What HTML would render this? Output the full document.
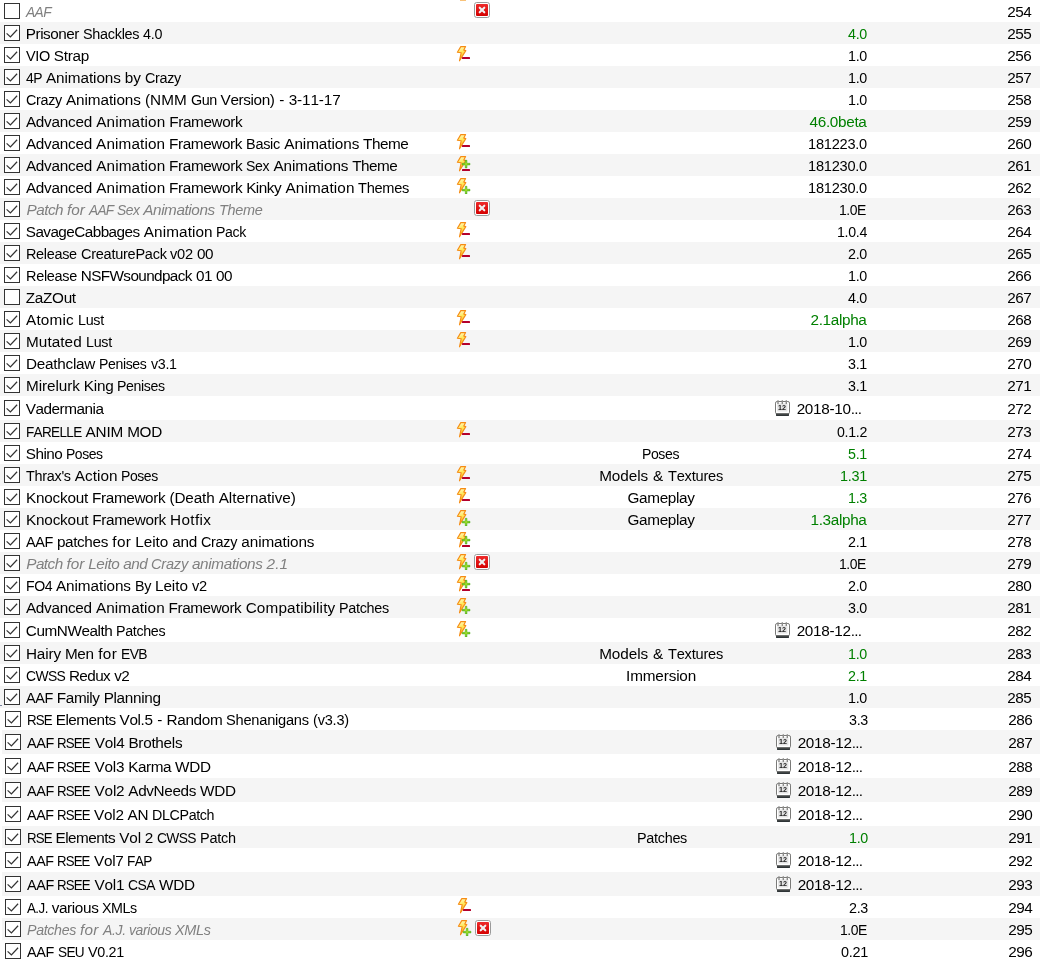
<!DOCTYPE html><html><head><meta charset="utf-8"><title>Mod list</title><style>
html,body{margin:0;padding:0;background:#fff;}
body{width:1040px;height:961px;overflow:hidden;position:relative;font-family:"Liberation Sans",sans-serif;font-size:15.3px;color:#000;font-kerning:none;font-variant-ligatures:none;}
.r{position:absolute;left:0;width:1040px;}
.g{background:#f5f5f5;}
.t{position:absolute;white-space:nowrap;line-height:22px;height:22px;top:0;}
.w{display:inline-block;transform-origin:0 50%;}
.i{font-style:italic;color:#808080;}
.gr{color:#008000;}
.cb{position:absolute;width:14px;height:14px;border:1px solid #333;background:#fff;}
.cb svg{position:absolute;left:-1px;top:-1px;}
.ic{position:absolute;width:16px;height:16px;}
</style></head><body>
<svg width="0" height="0" style="position:absolute">
<defs>
<linearGradient id="bg" x1="0.3" y1="0" x2="0.5" y2="1">
<stop offset="0" stop-color="#fffbc4"/><stop offset="0.4" stop-color="#ffe85a"/><stop offset="0.75" stop-color="#fcc12e"/><stop offset="1" stop-color="#f7941d"/>
</linearGradient>
<radialGradient id="pg" cx="0.5" cy="0.45" r="0.6">
<stop offset="0" stop-color="#b4e82a"/><stop offset="0.6" stop-color="#86d020"/><stop offset="1" stop-color="#4bb01a"/>
</radialGradient>
<linearGradient id="rg" x1="0" y1="0" x2="0" y2="1">
<stop offset="0" stop-color="#ee2a2a"/><stop offset="1" stop-color="#d40000"/>
</linearGradient>
<linearGradient id="cg" x1="0" y1="0" x2="0" y2="1">
<stop offset="0" stop-color="#ffffff"/><stop offset="1" stop-color="#d8d8d8"/>
</linearGradient>
<g id="bolt"><polygon points="4.8,0.6 9.6,0.6 7.8,4.1 9.8,4.6 3.5,14.8 5.2,6.7 1.4,6.3" fill="url(#bg)" stroke="#f68c14" stroke-width="1.15" stroke-linejoin="round"/></g>
<g id="plus"><path d="M3.3 0.3h1.6v3h3v1.6h-3v3h-1.6v-3h-3v-1.6h3z" transform="translate(6 0)" fill="url(#pg)" stroke="#4cae18" stroke-width="0.6"/></g>
<g id="minus"><rect x="6" y="0" width="8" height="2" rx="0.5" fill="#b4002c"/></g>
<g id="redx">
<rect x="0.5" y="0.5" width="15" height="15" rx="2.2" fill="#fff" stroke="#9a9a9a" stroke-width="1"/>
<rect x="2" y="2" width="12" height="12" rx="1" fill="url(#rg)"/>
<path d="M5.7 5.7L10.3 10.3M10.3 5.7L5.7 10.3" stroke="#f0f0f0" stroke-width="2.1" stroke-linecap="round"/>
</g>
<g id="cal">
<rect x="0.5" y="1.5" width="14" height="12.4" rx="1.6" fill="#fff" stroke="#7a7a78" stroke-width="1"/>
<rect x="2.2" y="3.3" width="10.2" height="8.2" fill="#e4e4e4"/>
<rect x="1" y="13.6" width="13" height="2.3" rx="0.4" fill="#2e3436"/>
<rect x="1.2" y="13.4" width="12.6" height="0.9" fill="#6e6e6c"/>
<path d="M3 0.3v3.7M7.3 0.3v3.7M11.3 0.3v3.7" stroke="#8c8c8a" stroke-width="1.4"/>
<text x="6.9" y="10.2" font-family="Liberation Sans, sans-serif" font-size="7.2" font-weight="bold" text-anchor="middle" fill="#1c1c1c">12</text>
</g>
</defs>
</svg>

<div class="r" style="top:0px;height:22px;left:0px;width:1040px"><div class="cb" style="left:4px;top:3px"></div><span id="n0" class="t i" style="left:26px;top:1.0px;word-spacing:-0.55px"><span class="w" style="width:25.00px;transform:scaleX(0.901);letter-spacing:-0.67px;margin:0 0.30px 0 -0.30px">AAF</span></span><svg class="ic" style="left:474px;top:2px" viewBox="0 0 16 16"><use href="#redx"/></svg><span id="p0" class="t" style="left:1007.50px;top:1.0px"><span style="letter-spacing:-0.51px;margin:0 0.25px 0 -0.25px">254</span></span></div>
<div class="r g" style="top:22px;height:22px;left:0px;width:1040px"><div class="cb" style="left:4px;top:3px"><svg width="16" height="16" viewBox="0 0 16 16"><path d="M2.6 8.4L6.4 11.9L13.1 4.7" fill="none" stroke="#333" stroke-width="1.25"/></svg></div><span id="n1" class="t" style="left:26px;top:1.0px;word-spacing:-0.23px"><span style="letter-spacing:-0.47px;margin:0 0.23px 0 -0.23px">Prisoner</span> <span class="w" style="width:56.26px;transform:scaleX(0.943);letter-spacing:-0.30px;margin:0 0.14px 0 -0.14px">Shackles</span> <span class="w" style="width:19.09px;transform:scaleX(0.937);letter-spacing:-0.30px;margin:0 0.14px 0 -0.14px">4.0</span></span><span id="v1" class="t gr" style="left:847.70px;top:1.0px"><span class="w" style="width:19.00px;transform:scaleX(0.935);letter-spacing:-0.31px;margin:0 0.15px 0 -0.15px">4.0</span></span><span id="p1" class="t" style="left:1007.50px;top:1.0px"><span style="letter-spacing:-0.51px;margin:0 0.25px 0 -0.25px">255</span></span></div>
<div class="r" style="top:44px;height:22px;left:0px;width:1040px"><div class="cb" style="left:4px;top:3px"><svg width="16" height="16" viewBox="0 0 16 16"><path d="M2.6 8.4L6.4 11.9L13.1 4.7" fill="none" stroke="#333" stroke-width="1.25"/></svg></div><span id="n2" class="t" style="left:26px;top:1.0px;word-spacing:-0.25px"><span class="w" style="width:24.01px;transform:scaleX(0.946);letter-spacing:-0.32px;margin:0 0.15px 0 -0.15px">VIO</span> <span style="letter-spacing:-0.31px;margin:0 0.16px 0 -0.16px">Strap</span></span><svg class="ic" style="left:456px;top:2px" viewBox="0 0 16 16"><use href="#bolt"/><use href="#minus" y="11"/></svg><span id="v2" class="t" style="left:847.70px;top:1.0px"><span class="w" style="width:19.00px;transform:scaleX(0.935);letter-spacing:-0.31px;margin:0 0.15px 0 -0.15px">1.0</span></span><span id="p2" class="t" style="left:1007.50px;top:1.0px"><span style="letter-spacing:-0.51px;margin:0 0.25px 0 -0.25px">256</span></span></div>
<div class="r g" style="top:66px;height:22px;left:0px;width:1040px"><div class="cb" style="left:4px;top:3px"><svg width="16" height="16" viewBox="0 0 16 16"><path d="M2.6 8.4L6.4 11.9L13.1 4.7" fill="none" stroke="#333" stroke-width="1.25"/></svg></div><span id="n3" class="t" style="left:26px;top:1.0px;word-spacing:-0.26px"><span class="w" style="width:15.97px;transform:scaleX(0.909);letter-spacing:-0.57px;margin:0 0.26px 0 -0.26px">4P</span> <span style="letter-spacing:-0.08px;margin:0 0.04px 0 -0.04px">Animations</span> <span style="letter-spacing:-0.09px;margin:0 0.05px 0 -0.05px">by</span> <span class="w" style="width:35.94px;transform:scaleX(0.938);letter-spacing:-0.33px;margin:0 0.16px 0 -0.16px">Crazy</span></span><span id="v3" class="t" style="left:847.70px;top:1.0px"><span class="w" style="width:19.00px;transform:scaleX(0.935);letter-spacing:-0.31px;margin:0 0.15px 0 -0.15px">1.0</span></span><span id="p3" class="t" style="left:1007.50px;top:1.0px"><span style="letter-spacing:-0.51px;margin:0 0.25px 0 -0.25px">257</span></span></div>
<div class="r" style="top:88px;height:22px;left:0px;width:1040px"><div class="cb" style="left:4px;top:3px"><svg width="16" height="16" viewBox="0 0 16 16"><path d="M2.6 8.4L6.4 11.9L13.1 4.7" fill="none" stroke="#333" stroke-width="1.25"/></svg></div><span id="n4" class="t" style="left:26px;top:1.0px;word-spacing:-0.25px"><span class="w" style="width:35.97px;transform:scaleX(0.939);letter-spacing:-0.33px;margin:0 0.15px 0 -0.15px">Crazy</span> <span style="letter-spacing:-0.08px;margin:0 0.04px 0 -0.04px">Animations</span> <span style="letter-spacing:0.08px;margin:0 -0.04px 0 0.04px">(NMM</span> <span class="w" style="width:25.98px;transform:scaleX(0.938);letter-spacing:-0.41px;margin:0 0.19px 0 -0.19px">Gun</span> <span style="letter-spacing:-0.38px;margin:0 0.19px 0 -0.19px">Version)</span> <span style="letter-spacing:0.90px;margin:0 -0.45px 0 0.45px">-</span> <span style="letter-spacing:-0.11px;margin:0 0.06px 0 -0.06px">3-11-17</span></span><span id="v4" class="t" style="left:847.70px;top:1.0px"><span class="w" style="width:19.00px;transform:scaleX(0.935);letter-spacing:-0.31px;margin:0 0.15px 0 -0.15px">1.0</span></span><span id="p4" class="t" style="left:1007.50px;top:1.0px"><span style="letter-spacing:-0.51px;margin:0 0.25px 0 -0.25px">258</span></span></div>
<div class="r g" style="top:110px;height:22px;left:0px;width:1040px"><div class="cb" style="left:4px;top:3px"><svg width="16" height="16" viewBox="0 0 16 16"><path d="M2.6 8.4L6.4 11.9L13.1 4.7" fill="none" stroke="#333" stroke-width="1.25"/></svg></div><span id="n5" class="t" style="left:26px;top:1.0px;word-spacing:-0.24px"><span style="letter-spacing:-0.24px;margin:0 0.12px 0 -0.12px">Advanced</span> <span style="letter-spacing:0.13px;margin:0 -0.06px 0 0.06px">Animation</span> <span style="letter-spacing:-0.37px;margin:0 0.18px 0 -0.18px">Framework</span></span><span id="v5" class="t gr" style="left:809.70px;top:1.0px"><span style="letter-spacing:-0.32px;margin:0 0.16px 0 -0.16px">46.0beta</span></span><span id="p5" class="t" style="left:1007.50px;top:1.0px"><span style="letter-spacing:-0.51px;margin:0 0.25px 0 -0.25px">259</span></span></div>
<div class="r" style="top:132px;height:22px;left:0px;width:1040px"><div class="cb" style="left:4px;top:3px"><svg width="16" height="16" viewBox="0 0 16 16"><path d="M2.6 8.4L6.4 11.9L13.1 4.7" fill="none" stroke="#333" stroke-width="1.25"/></svg></div><span id="n6" class="t" style="left:26px;top:1.0px;word-spacing:-0.25px"><span style="letter-spacing:-0.25px;margin:0 0.12px 0 -0.12px">Advanced</span> <span style="letter-spacing:0.12px;margin:0 -0.06px 0 0.06px">Animation</span> <span style="letter-spacing:-0.38px;margin:0 0.19px 0 -0.19px">Framework</span> <span class="w" style="width:34.04px;transform:scaleX(0.945);letter-spacing:-0.28px;margin:0 0.13px 0 -0.13px">Basic</span> <span style="letter-spacing:-0.06px;margin:0 0.03px 0 -0.03px">Animations</span> <span style="letter-spacing:-0.51px;margin:0 0.26px 0 -0.26px">Theme</span></span><svg class="ic" style="left:456px;top:2px" viewBox="0 0 16 16"><use href="#bolt"/><use href="#minus" y="11"/></svg><span id="v6" class="t" style="left:807.70px;top:1.0px"><span class="w" style="width:59.00px;transform:scaleX(0.954);letter-spacing:-0.25px;margin:0 0.12px 0 -0.12px">181223.0</span></span><span id="p6" class="t" style="left:1007.50px;top:1.0px"><span style="letter-spacing:-0.51px;margin:0 0.25px 0 -0.25px">260</span></span></div>
<div class="r g" style="top:154px;height:22px;left:0px;width:1040px"><div class="cb" style="left:4px;top:3px"><svg width="16" height="16" viewBox="0 0 16 16"><path d="M2.6 8.4L6.4 11.9L13.1 4.7" fill="none" stroke="#333" stroke-width="1.25"/></svg></div><span id="n7" class="t" style="left:26px;top:1.0px;word-spacing:-0.24px"><span style="letter-spacing:-0.24px;margin:0 0.12px 0 -0.12px">Advanced</span> <span style="letter-spacing:0.12px;margin:0 -0.06px 0 0.06px">Animation</span> <span style="letter-spacing:-0.38px;margin:0 0.19px 0 -0.19px">Framework</span> <span class="w" style="width:23.03px;transform:scaleX(0.922);letter-spacing:-0.46px;margin:0 0.21px 0 -0.21px">Sex</span> <span style="letter-spacing:-0.06px;margin:0 0.03px 0 -0.03px">Animations</span> <span style="letter-spacing:-0.51px;margin:0 0.26px 0 -0.26px">Theme</span></span><svg class="ic" style="left:456px;top:2px" viewBox="0 0 16 16"><use href="#bolt"/><use href="#plus" y="4"/><use href="#minus" y="13"/></svg><span id="v7" class="t" style="left:807.70px;top:1.0px"><span class="w" style="width:59.00px;transform:scaleX(0.954);letter-spacing:-0.25px;margin:0 0.12px 0 -0.12px">181230.0</span></span><span id="p7" class="t" style="left:1007.50px;top:1.0px"><span style="letter-spacing:-0.51px;margin:0 0.25px 0 -0.25px">261</span></span></div>
<div class="r" style="top:176px;height:22px;left:0px;width:1040px"><div class="cb" style="left:4px;top:3px"><svg width="16" height="16" viewBox="0 0 16 16"><path d="M2.6 8.4L6.4 11.9L13.1 4.7" fill="none" stroke="#333" stroke-width="1.25"/></svg></div><span id="n8" class="t" style="left:26px;top:1.0px;word-spacing:-0.24px"><span style="letter-spacing:-0.24px;margin:0 0.12px 0 -0.12px">Advanced</span> <span style="letter-spacing:0.12px;margin:0 -0.06px 0 0.06px">Animation</span> <span style="letter-spacing:-0.38px;margin:0 0.19px 0 -0.19px">Framework</span> <span style="letter-spacing:-0.47px;margin:0 0.24px 0 -0.24px">Kinky</span> <span style="letter-spacing:0.12px;margin:0 -0.06px 0 0.06px">Animation</span> <span class="w" style="width:51.09px;transform:scaleX(0.954);letter-spacing:-0.29px;margin:0 0.14px 0 -0.14px">Themes</span></span><svg class="ic" style="left:456px;top:2px" viewBox="0 0 16 16"><use href="#bolt"/><use href="#plus" y="8"/></svg><span id="v8" class="t" style="left:807.70px;top:1.0px"><span class="w" style="width:59.00px;transform:scaleX(0.954);letter-spacing:-0.25px;margin:0 0.12px 0 -0.12px">181230.0</span></span><span id="p8" class="t" style="left:1007.50px;top:1.0px"><span style="letter-spacing:-0.51px;margin:0 0.25px 0 -0.25px">262</span></span></div>
<div class="r g" style="top:198px;height:22px;left:0px;width:1040px"><div class="cb" style="left:4px;top:3px"><svg width="16" height="16" viewBox="0 0 16 16"><path d="M2.6 8.4L6.4 11.9L13.1 4.7" fill="none" stroke="#333" stroke-width="1.25"/></svg></div><span id="n9" class="t i" style="left:26px;top:1.0px;word-spacing:-0.38px"><span style="letter-spacing:-0.51px;margin:0 -0.00px 0 0.53px">Patch</span> <span style="letter-spacing:0.02px;margin:0 -0.00px 0 0.00px">for</span> <span class="w" style="width:24.44px;transform:scaleX(0.889);letter-spacing:-0.75px;margin:0 -0.00px 0 0.00px">AAF</span> <span class="w" style="width:22.32px;transform:scaleX(0.905);letter-spacing:-0.57px;margin:0 -0.00px 0 0.00px">Sex</span> <span style="letter-spacing:-0.42px;margin:0 -0.00px 0 0.00px">Animations</span> <span class="w" style="width:43.33px;transform:scaleX(0.945);letter-spacing:-0.35px;margin:0 -0.00px 0 0.00px">Theme</span></span><svg class="ic" style="left:474px;top:2px" viewBox="0 0 16 16"><use href="#redx"/></svg><span id="v9" class="t" style="left:839.70px;top:1.0px"><span class="w" style="width:27.00px;transform:scaleX(0.912);letter-spacing:-0.47px;margin:0 0.21px 0 -0.21px">1.0E</span></span><span id="p9" class="t" style="left:1007.50px;top:1.0px"><span style="letter-spacing:-0.51px;margin:0 0.25px 0 -0.25px">263</span></span></div>
<div class="r" style="top:220px;height:22px;left:0px;width:1040px"><div class="cb" style="left:4px;top:3px"><svg width="16" height="16" viewBox="0 0 16 16"><path d="M2.6 8.4L6.4 11.9L13.1 4.7" fill="none" stroke="#333" stroke-width="1.25"/></svg></div><span id="n10" class="t" style="left:26px;top:1.0px;word-spacing:-0.26px"><span style="letter-spacing:-0.56px;margin:0 0.28px 0 -0.28px">SavageCabbages</span> <span style="letter-spacing:0.09px;margin:0 -0.05px 0 0.05px">Animation</span> <span class="w" style="width:29.94px;transform:scaleX(0.926);letter-spacing:-0.42px;margin:0 0.20px 0 -0.20px">Pack</span></span><svg class="ic" style="left:456px;top:2px" viewBox="0 0 16 16"><use href="#bolt"/><use href="#minus" y="11"/></svg><span id="v10" class="t" style="left:836.70px;top:1.0px"><span class="w" style="width:30.00px;transform:scaleX(0.927);letter-spacing:-0.33px;margin:0 0.16px 0 -0.16px">1.0.4</span></span><span id="p10" class="t" style="left:1007.50px;top:1.0px"><span style="letter-spacing:-0.51px;margin:0 0.25px 0 -0.25px">264</span></span></div>
<div class="r g" style="top:242px;height:22px;left:0px;width:1040px"><div class="cb" style="left:4px;top:3px"><svg width="16" height="16" viewBox="0 0 16 16"><path d="M2.6 8.4L6.4 11.9L13.1 4.7" fill="none" stroke="#333" stroke-width="1.25"/></svg></div><span id="n11" class="t" style="left:26px;top:1.0px;word-spacing:-0.27px"><span class="w" style="width:50.80px;transform:scaleX(0.942);letter-spacing:-0.31px;margin:0 0.15px 0 -0.15px">Release</span> <span class="w" style="width:85.67px;transform:scaleX(0.949);letter-spacing:-0.27px;margin:0 0.13px 0 -0.13px">CreaturePack</span> <span class="w" style="width:22.91px;transform:scaleX(0.957);letter-spacing:-0.24px;margin:0 0.11px 0 -0.11px">v02</span> <span style="letter-spacing:-0.54px;margin:0 0.27px 0 -0.27px">00</span></span><svg class="ic" style="left:456px;top:2px" viewBox="0 0 16 16"><use href="#bolt"/><use href="#minus" y="11"/></svg><span id="v11" class="t" style="left:847.70px;top:1.0px"><span class="w" style="width:19.00px;transform:scaleX(0.935);letter-spacing:-0.31px;margin:0 0.15px 0 -0.15px">2.0</span></span><span id="p11" class="t" style="left:1007.50px;top:1.0px"><span style="letter-spacing:-0.51px;margin:0 0.25px 0 -0.25px">265</span></span></div>
<div class="r" style="top:264px;height:22px;left:0px;width:1040px"><div class="cb" style="left:4px;top:3px"><svg width="16" height="16" viewBox="0 0 16 16"><path d="M2.6 8.4L6.4 11.9L13.1 4.7" fill="none" stroke="#333" stroke-width="1.25"/></svg></div><span id="n12" class="t" style="left:26px;top:1.0px;word-spacing:-0.25px"><span class="w" style="width:51.06px;transform:scaleX(0.945);letter-spacing:-0.30px;margin:0 0.14px 0 -0.14px">Release</span> <span style="letter-spacing:-0.61px;margin:0 0.30px 0 -0.30px">NSFWsoundpack</span> <span style="letter-spacing:-0.50px;margin:0 0.25px 0 -0.25px">01</span> <span style="letter-spacing:-0.50px;margin:0 0.25px 0 -0.25px">00</span></span><span id="v12" class="t" style="left:847.70px;top:1.0px"><span class="w" style="width:19.00px;transform:scaleX(0.935);letter-spacing:-0.31px;margin:0 0.15px 0 -0.15px">1.0</span></span><span id="p12" class="t" style="left:1007.50px;top:1.0px"><span style="letter-spacing:-0.51px;margin:0 0.25px 0 -0.25px">266</span></span></div>
<div class="r g" style="top:286px;height:22px;left:0px;width:1040px"><div class="cb" style="left:4px;top:3px"></div><span id="n13" class="t" style="left:26px;top:1.0px;word-spacing:-0.25px"><span style="letter-spacing:-0.32px;margin:0 0.16px 0 -0.16px">ZaZOut</span></span><span id="v13" class="t" style="left:847.70px;top:1.0px"><span class="w" style="width:19.00px;transform:scaleX(0.935);letter-spacing:-0.31px;margin:0 0.15px 0 -0.15px">4.0</span></span><span id="p13" class="t" style="left:1007.50px;top:1.0px"><span style="letter-spacing:-0.51px;margin:0 0.25px 0 -0.25px">267</span></span></div>
<div class="r" style="top:308px;height:22px;left:0px;width:1040px"><div class="cb" style="left:4px;top:3px"><svg width="16" height="16" viewBox="0 0 16 16"><path d="M2.6 8.4L6.4 11.9L13.1 4.7" fill="none" stroke="#333" stroke-width="1.25"/></svg></div><span id="n14" class="t" style="left:26px;top:1.0px;word-spacing:-0.27px"><span style="letter-spacing:0.17px;margin:0 -0.08px 0 0.08px">Atomic</span> <span class="w" style="width:25.88px;transform:scaleX(0.936);letter-spacing:-0.31px;margin:0 0.15px 0 -0.15px">Lust</span></span><svg class="ic" style="left:456px;top:2px" viewBox="0 0 16 16"><use href="#bolt"/><use href="#minus" y="11"/></svg><span id="v14" class="t gr" style="left:810.70px;top:1.0px"><span style="letter-spacing:-0.34px;margin:0 0.17px 0 -0.17px">2.1alpha</span></span><span id="p14" class="t" style="left:1007.50px;top:1.0px"><span style="letter-spacing:-0.51px;margin:0 0.25px 0 -0.25px">268</span></span></div>
<div class="r g" style="top:330px;height:22px;left:0px;width:1040px"><div class="cb" style="left:4px;top:3px"><svg width="16" height="16" viewBox="0 0 16 16"><path d="M2.6 8.4L6.4 11.9L13.1 4.7" fill="none" stroke="#333" stroke-width="1.25"/></svg></div><span id="n15" class="t" style="left:26px;top:1.0px;word-spacing:-0.27px"><span style="letter-spacing:0.07px;margin:0 -0.03px 0 0.03px">Mutated</span> <span class="w" style="width:25.89px;transform:scaleX(0.936);letter-spacing:-0.31px;margin:0 0.15px 0 -0.15px">Lust</span></span><svg class="ic" style="left:456px;top:2px" viewBox="0 0 16 16"><use href="#bolt"/><use href="#minus" y="11"/></svg><span id="v15" class="t" style="left:847.70px;top:1.0px"><span class="w" style="width:19.00px;transform:scaleX(0.935);letter-spacing:-0.31px;margin:0 0.15px 0 -0.15px">1.0</span></span><span id="p15" class="t" style="left:1007.50px;top:1.0px"><span style="letter-spacing:-0.51px;margin:0 0.25px 0 -0.25px">269</span></span></div>
<div class="r" style="top:352px;height:22px;left:0px;width:1040px"><div class="cb" style="left:4px;top:3px"><svg width="16" height="16" viewBox="0 0 16 16"><path d="M2.6 8.4L6.4 11.9L13.1 4.7" fill="none" stroke="#333" stroke-width="1.25"/></svg></div><span id="n16" class="t" style="left:26px;top:1.0px;word-spacing:-0.29px"><span style="letter-spacing:-0.24px;margin:0 0.12px 0 -0.12px">Deathclaw</span> <span class="w" style="width:47.50px;transform:scaleX(0.921);letter-spacing:-0.41px;margin:0 0.19px 0 -0.19px">Penises</span> <span class="w" style="width:25.73px;transform:scaleX(0.932);letter-spacing:-0.33px;margin:0 0.15px 0 -0.15px">v3.1</span></span><span id="v16" class="t" style="left:847.70px;top:1.0px"><span class="w" style="width:19.00px;transform:scaleX(0.935);letter-spacing:-0.31px;margin:0 0.15px 0 -0.15px">3.1</span></span><span id="p16" class="t" style="left:1007.50px;top:1.0px"><span style="letter-spacing:-0.51px;margin:0 0.25px 0 -0.25px">270</span></span></div>
<div class="r g" style="top:374px;height:22px;left:0px;width:1040px"><div class="cb" style="left:4px;top:3px"><svg width="16" height="16" viewBox="0 0 16 16"><path d="M2.6 8.4L6.4 11.9L13.1 4.7" fill="none" stroke="#333" stroke-width="1.25"/></svg></div><span id="n17" class="t" style="left:26px;top:1.0px;word-spacing:-0.27px"><span style="letter-spacing:-0.08px;margin:0 0.04px 0 -0.04px">Mirelurk</span> <span style="letter-spacing:-0.19px;margin:0 0.10px 0 -0.10px">King</span> <span class="w" style="width:47.76px;transform:scaleX(0.925);letter-spacing:-0.40px;margin:0 0.18px 0 -0.18px">Penises</span></span><span id="v17" class="t" style="left:847.70px;top:1.0px"><span class="w" style="width:19.00px;transform:scaleX(0.935);letter-spacing:-0.31px;margin:0 0.15px 0 -0.15px">3.1</span></span><span id="p17" class="t" style="left:1007.50px;top:1.0px"><span style="letter-spacing:-0.51px;margin:0 0.25px 0 -0.25px">271</span></span></div>
<div class="r" style="top:396px;height:24px;left:0px;width:1040px"><div class="cb" style="left:4px;top:4px"><svg width="16" height="16" viewBox="0 0 16 16"><path d="M2.6 8.4L6.4 11.9L13.1 4.7" fill="none" stroke="#333" stroke-width="1.25"/></svg></div><span id="n18" class="t" style="left:26px;top:2.0px;word-spacing:-0.36px"><span style="letter-spacing:-0.47px;margin:0 0.24px 0 -0.24px">Vadermania</span></span><svg class="ic" style="left:775px;top:4px" viewBox="0 0 16 16"><use href="#cal"/></svg><span id="v18" class="t" style="left:796.8px;top:2.0px"><span style="letter-spacing:-0.31px;margin:0 0.15px 0 -0.15px">2018-10</span><span style="letter-spacing:-0.8px">...</span></span><span id="p18" class="t" style="left:1007.50px;top:2.0px"><span style="letter-spacing:-0.51px;margin:0 0.25px 0 -0.25px">272</span></span></div>
<div class="r g" style="top:420px;height:22px;left:0px;width:1040px"><div class="cb" style="left:4px;top:3px"><svg width="16" height="16" viewBox="0 0 16 16"><path d="M2.6 8.4L6.4 11.9L13.1 4.7" fill="none" stroke="#333" stroke-width="1.25"/></svg></div><span id="n19" class="t" style="left:26px;top:1.0px;word-spacing:-0.28px"><span class="w" style="width:55.59px;transform:scaleX(0.886);letter-spacing:-0.75px;margin:0 0.33px 0 -0.33px">FARELLE</span> <span style="letter-spacing:-0.13px;margin:0 0.07px 0 -0.07px">ANIM</span> <span style="letter-spacing:-0.32px;margin:0 0.16px 0 -0.16px">MOD</span></span><svg class="ic" style="left:456px;top:2px" viewBox="0 0 16 16"><use href="#bolt"/><use href="#minus" y="11"/></svg><span id="v19" class="t" style="left:836.70px;top:1.0px"><span class="w" style="width:30.00px;transform:scaleX(0.927);letter-spacing:-0.33px;margin:0 0.16px 0 -0.16px">0.1.2</span></span><span id="p19" class="t" style="left:1007.50px;top:1.0px"><span style="letter-spacing:-0.51px;margin:0 0.25px 0 -0.25px">273</span></span></div>
<div class="r" style="top:442px;height:22px;left:0px;width:1040px"><div class="cb" style="left:4px;top:3px"><svg width="16" height="16" viewBox="0 0 16 16"><path d="M2.6 8.4L6.4 11.9L13.1 4.7" fill="none" stroke="#333" stroke-width="1.25"/></svg></div><span id="n20" class="t" style="left:26px;top:1.0px;word-spacing:-0.30px"><span style="letter-spacing:-0.51px;margin:0 0.26px 0 -0.26px">Shino</span> <span class="w" style="width:36.58px;transform:scaleX(0.914);letter-spacing:-0.50px;margin:0 0.23px 0 -0.23px">Poses</span></span><span id="c20" class="t" style="left:642.70px;top:1.0px;word-spacing:-0.25px"><span class="w" style="width:37.00px;transform:scaleX(0.920);letter-spacing:-0.46px;margin:0 0.21px 0 -0.21px">Poses</span></span><span id="v20" class="t gr" style="left:847.70px;top:1.0px"><span class="w" style="width:19.00px;transform:scaleX(0.935);letter-spacing:-0.31px;margin:0 0.15px 0 -0.15px">5.1</span></span><span id="p20" class="t" style="left:1007.50px;top:1.0px"><span style="letter-spacing:-0.51px;margin:0 0.25px 0 -0.25px">274</span></span></div>
<div class="r g" style="top:464px;height:22px;left:0px;width:1040px"><div class="cb" style="left:4px;top:3px"><svg width="16" height="16" viewBox="0 0 16 16"><path d="M2.6 8.4L6.4 11.9L13.1 4.7" fill="none" stroke="#333" stroke-width="1.25"/></svg></div><span id="n21" class="t" style="left:26px;top:1.0px;word-spacing:-0.27px"><span class="w" style="width:44.79px;transform:scaleX(0.940);letter-spacing:-0.29px;margin:0 0.14px 0 -0.14px">Thrax's</span> <span style="letter-spacing:0.05px;margin:0 -0.02px 0 0.02px">Action</span> <span class="w" style="width:36.82px;transform:scaleX(0.917);letter-spacing:-0.48px;margin:0 0.22px 0 -0.22px">Poses</span></span><svg class="ic" style="left:456px;top:2px" viewBox="0 0 16 16"><use href="#bolt"/><use href="#minus" y="11"/></svg><span id="c21" class="t" style="left:599.20px;top:1.0px;word-spacing:-0.25px"><span style="letter-spacing:-0.05px;margin:0 0.03px 0 -0.03px">Models</span> <span style="letter-spacing:1.80px;margin:0 -0.90px 0 0.90px">&amp;</span> <span class="w" style="width:55.00px;transform:scaleX(0.954);letter-spacing:-0.23px;margin:0 0.11px 0 -0.11px">Textures</span></span><span id="v21" class="t gr" style="left:839.70px;top:1.0px"><span class="w" style="width:27.00px;transform:scaleX(0.943);letter-spacing:-0.29px;margin:0 0.13px 0 -0.13px">1.31</span></span><span id="p21" class="t" style="left:1007.50px;top:1.0px"><span style="letter-spacing:-0.51px;margin:0 0.25px 0 -0.25px">275</span></span></div>
<div class="r" style="top:486px;height:22px;left:0px;width:1040px"><div class="cb" style="left:4px;top:3px"><svg width="16" height="16" viewBox="0 0 16 16"><path d="M2.6 8.4L6.4 11.9L13.1 4.7" fill="none" stroke="#333" stroke-width="1.25"/></svg></div><span id="n22" class="t" style="left:26px;top:1.0px;word-spacing:-0.24px"><span style="letter-spacing:-0.20px;margin:0 0.10px 0 -0.10px">Knockout</span> <span style="letter-spacing:-0.36px;margin:0 0.18px 0 -0.18px">Framework</span> <span style="letter-spacing:-0.13px;margin:0 0.06px 0 -0.06px">(Death</span> <span style="letter-spacing:-0.01px;margin:0 0.01px 0 -0.01px">Alternative)</span></span><svg class="ic" style="left:456px;top:2px" viewBox="0 0 16 16"><use href="#bolt"/><use href="#minus" y="11"/></svg><span id="c22" class="t" style="left:627.70px;top:1.0px;word-spacing:-0.25px"><span style="letter-spacing:-0.34px;margin:0 0.17px 0 -0.17px">Gameplay</span></span><span id="v22" class="t gr" style="left:847.70px;top:1.0px"><span class="w" style="width:19.00px;transform:scaleX(0.935);letter-spacing:-0.31px;margin:0 0.15px 0 -0.15px">1.3</span></span><span id="p22" class="t" style="left:1007.50px;top:1.0px"><span style="letter-spacing:-0.51px;margin:0 0.25px 0 -0.25px">276</span></span></div>
<div class="r g" style="top:508px;height:22px;left:0px;width:1040px"><div class="cb" style="left:4px;top:3px"><svg width="16" height="16" viewBox="0 0 16 16"><path d="M2.6 8.4L6.4 11.9L13.1 4.7" fill="none" stroke="#333" stroke-width="1.25"/></svg></div><span id="n23" class="t" style="left:26px;top:1.0px;word-spacing:-0.22px"><span style="letter-spacing:-0.17px;margin:0 0.09px 0 -0.09px">Knockout</span> <span style="letter-spacing:-0.34px;margin:0 0.17px 0 -0.17px">Framework</span> <span style="letter-spacing:0.36px;margin:0 -0.18px 0 0.18px">Hotfix</span></span><svg class="ic" style="left:456px;top:2px" viewBox="0 0 16 16"><use href="#bolt"/><use href="#plus" y="8"/></svg><span id="c23" class="t" style="left:627.70px;top:1.0px;word-spacing:-0.25px"><span style="letter-spacing:-0.34px;margin:0 0.17px 0 -0.17px">Gameplay</span></span><span id="v23" class="t gr" style="left:810.70px;top:1.0px"><span style="letter-spacing:-0.34px;margin:0 0.17px 0 -0.17px">1.3alpha</span></span><span id="p23" class="t" style="left:1007.50px;top:1.0px"><span style="letter-spacing:-0.51px;margin:0 0.25px 0 -0.25px">277</span></span></div>
<div class="r" style="top:530px;height:22px;left:0px;width:1040px"><div class="cb" style="left:4px;top:3px"><svg width="16" height="16" viewBox="0 0 16 16"><path d="M2.6 8.4L6.4 11.9L13.1 4.7" fill="none" stroke="#333" stroke-width="1.25"/></svg></div><span id="n24" class="t" style="left:26px;top:1.0px;word-spacing:-0.24px"><span class="w" style="width:27.04px;transform:scaleX(0.944);letter-spacing:-0.37px;margin:0 0.18px 0 -0.18px">AAF</span> <span style="letter-spacing:-0.36px;margin:0 0.18px 0 -0.18px">patches</span> <span style="letter-spacing:0.39px;margin:0 -0.20px 0 0.20px">for</span> <span style="letter-spacing:-0.03px;margin:0 0.01px 0 -0.01px">Leito</span> <span style="letter-spacing:-0.16px;margin:0 0.08px 0 -0.08px">and</span> <span class="w" style="width:36.05px;transform:scaleX(0.940);letter-spacing:-0.32px;margin:0 0.15px 0 -0.15px">Crazy</span> <span style="letter-spacing:-0.09px;margin:0 0.04px 0 -0.04px">animations</span></span><svg class="ic" style="left:456px;top:2px" viewBox="0 0 16 16"><use href="#bolt"/><use href="#plus" y="4"/><use href="#minus" y="13"/></svg><span id="v24" class="t" style="left:847.70px;top:1.0px"><span class="w" style="width:19.00px;transform:scaleX(0.935);letter-spacing:-0.31px;margin:0 0.15px 0 -0.15px">2.1</span></span><span id="p24" class="t" style="left:1007.50px;top:1.0px"><span style="letter-spacing:-0.51px;margin:0 0.25px 0 -0.25px">278</span></span></div>
<div class="r g" style="top:552px;height:22px;left:0px;width:1040px"><div class="cb" style="left:4px;top:3px"><svg width="16" height="16" viewBox="0 0 16 16"><path d="M2.6 8.4L6.4 11.9L13.1 4.7" fill="none" stroke="#333" stroke-width="1.25"/></svg></div><span id="n25" class="t i" style="left:26px;top:1.0px;word-spacing:-0.38px"><span style="letter-spacing:-0.53px;margin:0 -0.00px 0 0.23px">Patch</span> <span style="letter-spacing:-0.03px;margin:0 -0.00px 0 0.00px">for</span> <span style="letter-spacing:-0.38px;margin:0 -0.00px 0 0.00px">Leito</span> <span style="letter-spacing:-0.57px;margin:0 -0.00px 0 0.00px">and</span> <span class="w" style="width:37.03px;transform:scaleX(0.955);letter-spacing:-0.24px;margin:0 -0.00px 0 0.00px">Crazy</span> <span style="letter-spacing:-0.33px;margin:0 -0.00px 0 0.00px">animations</span> <span style="letter-spacing:0.13px;margin:0 -0.00px 0 0.00px">2.1</span></span><svg class="ic" style="left:456px;top:2px" viewBox="0 0 16 16"><use href="#bolt"/><use href="#plus" y="8"/></svg><svg class="ic" style="left:474px;top:2px" viewBox="0 0 16 16"><use href="#redx"/></svg><span id="v25" class="t" style="left:839.70px;top:1.0px"><span class="w" style="width:27.00px;transform:scaleX(0.912);letter-spacing:-0.47px;margin:0 0.21px 0 -0.21px">1.0E</span></span><span id="p25" class="t" style="left:1007.50px;top:1.0px"><span style="letter-spacing:-0.51px;margin:0 0.25px 0 -0.25px">279</span></span></div>
<div class="r" style="top:574px;height:22px;left:0px;width:1040px"><div class="cb" style="left:4px;top:3px"><svg width="16" height="16" viewBox="0 0 16 16"><path d="M2.6 8.4L6.4 11.9L13.1 4.7" fill="none" stroke="#333" stroke-width="1.25"/></svg></div><span id="n26" class="t" style="left:26px;top:1.0px;word-spacing:-0.25px"><span class="w" style="width:25.99px;transform:scaleX(0.922);letter-spacing:-0.52px;margin:0 0.24px 0 -0.24px">FO4</span> <span style="letter-spacing:-0.07px;margin:0 0.04px 0 -0.04px">Animations</span> <span class="w" style="width:15.99px;transform:scaleX(0.936);letter-spacing:-0.38px;margin:0 0.18px 0 -0.18px">By</span> <span style="letter-spacing:-0.04px;margin:0 0.02px 0 -0.02px">Leito</span> <span class="w" style="width:14.99px;transform:scaleX(0.956);letter-spacing:-0.24px;margin:0 0.11px 0 -0.11px">v2</span></span><svg class="ic" style="left:456px;top:2px" viewBox="0 0 16 16"><use href="#bolt"/><use href="#plus" y="4"/><use href="#minus" y="13"/></svg><span id="v26" class="t" style="left:847.70px;top:1.0px"><span class="w" style="width:19.00px;transform:scaleX(0.935);letter-spacing:-0.31px;margin:0 0.15px 0 -0.15px">2.0</span></span><span id="p26" class="t" style="left:1007.50px;top:1.0px"><span style="letter-spacing:-0.51px;margin:0 0.25px 0 -0.25px">280</span></span></div>
<div class="r g" style="top:596px;height:22px;left:0px;width:1040px"><div class="cb" style="left:4px;top:3px"><svg width="16" height="16" viewBox="0 0 16 16"><path d="M2.6 8.4L6.4 11.9L13.1 4.7" fill="none" stroke="#333" stroke-width="1.25"/></svg></div><span id="n27" class="t" style="left:26px;top:1.0px;word-spacing:-0.26px"><span style="letter-spacing:-0.27px;margin:0 0.14px 0 -0.14px">Advanced</span> <span style="letter-spacing:0.09px;margin:0 -0.04px 0 0.04px">Animation</span> <span style="letter-spacing:-0.41px;margin:0 0.20px 0 -0.20px">Framework</span> <span style="letter-spacing:0.17px;margin:0 -0.09px 0 0.09px">Compatibility</span> <span class="w" style="width:49.89px;transform:scaleX(0.940);letter-spacing:-0.32px;margin:0 0.15px 0 -0.15px">Patches</span></span><svg class="ic" style="left:456px;top:2px" viewBox="0 0 16 16"><use href="#bolt"/><use href="#plus" y="8"/></svg><span id="v27" class="t" style="left:847.70px;top:1.0px"><span class="w" style="width:19.00px;transform:scaleX(0.935);letter-spacing:-0.31px;margin:0 0.15px 0 -0.15px">3.0</span></span><span id="p27" class="t" style="left:1007.50px;top:1.0px"><span style="letter-spacing:-0.51px;margin:0 0.25px 0 -0.25px">281</span></span></div>
<div class="r" style="top:618px;height:24px;left:0px;width:1040px"><div class="cb" style="left:4px;top:4px"><svg width="16" height="16" viewBox="0 0 16 16"><path d="M2.6 8.4L6.4 11.9L13.1 4.7" fill="none" stroke="#333" stroke-width="1.25"/></svg></div><span id="n28" class="t" style="left:26px;top:2.0px;word-spacing:-0.31px"><span style="letter-spacing:-0.43px;margin:0 0.22px 0 -0.22px">CumNWealth</span> <span class="w" style="width:49.24px;transform:scaleX(0.933);letter-spacing:-0.36px;margin:0 0.17px 0 -0.17px">Patches</span></span><svg class="ic" style="left:456px;top:3px" viewBox="0 0 16 16"><use href="#bolt"/><use href="#plus" y="8"/></svg><svg class="ic" style="left:775px;top:4px" viewBox="0 0 16 16"><use href="#cal"/></svg><span id="v28" class="t" style="left:796.8px;top:2.0px"><span style="letter-spacing:-0.31px;margin:0 0.15px 0 -0.15px">2018-12</span><span style="letter-spacing:-0.8px">...</span></span><span id="p28" class="t" style="left:1007.50px;top:2.0px"><span style="letter-spacing:-0.51px;margin:0 0.25px 0 -0.25px">282</span></span></div>
<div class="r g" style="top:642px;height:22px;left:0px;width:1040px"><div class="cb" style="left:4px;top:3px"><svg width="16" height="16" viewBox="0 0 16 16"><path d="M2.6 8.4L6.4 11.9L13.1 4.7" fill="none" stroke="#333" stroke-width="1.25"/></svg></div><span id="n29" class="t" style="left:26px;top:1.0px;word-spacing:-0.25px"><span style="letter-spacing:-0.14px;margin:0 0.07px 0 -0.07px">Hairy</span> <span style="letter-spacing:-0.26px;margin:0 0.13px 0 -0.13px">Men</span> <span style="letter-spacing:0.38px;margin:0 -0.19px 0 0.19px">for</span> <span class="w" style="width:25.99px;transform:scaleX(0.906);letter-spacing:-0.65px;margin:0 0.29px 0 -0.29px">EVB</span></span><span id="c29" class="t" style="left:599.20px;top:1.0px;word-spacing:-0.25px"><span style="letter-spacing:-0.05px;margin:0 0.03px 0 -0.03px">Models</span> <span style="letter-spacing:1.80px;margin:0 -0.90px 0 0.90px">&amp;</span> <span class="w" style="width:55.00px;transform:scaleX(0.954);letter-spacing:-0.23px;margin:0 0.11px 0 -0.11px">Textures</span></span><span id="v29" class="t gr" style="left:847.70px;top:1.0px"><span class="w" style="width:19.00px;transform:scaleX(0.935);letter-spacing:-0.31px;margin:0 0.15px 0 -0.15px">1.0</span></span><span id="p29" class="t" style="left:1007.50px;top:1.0px"><span style="letter-spacing:-0.51px;margin:0 0.25px 0 -0.25px">283</span></span></div>
<div class="r" style="top:664px;height:22px;left:0px;width:1040px"><div class="cb" style="left:4px;top:3px"><svg width="16" height="16" viewBox="0 0 16 16"><path d="M2.6 8.4L6.4 11.9L13.1 4.7" fill="none" stroke="#333" stroke-width="1.25"/></svg></div><span id="n30" class="t" style="left:26px;top:1.0px;word-spacing:-0.23px"><span class="w" style="width:39.18px;transform:scaleX(0.909);letter-spacing:-0.70px;margin:0 0.32px 0 -0.32px">CWSS</span> <span style="letter-spacing:-0.61px;margin:0 0.30px 0 -0.30px">Redux</span> <span style="letter-spacing:-0.54px;margin:0 0.27px 0 -0.27px">v2</span></span><span id="c30" class="t" style="left:626.20px;top:1.0px;word-spacing:-0.25px"><span style="letter-spacing:-0.16px;margin:0 0.08px 0 -0.08px">Immersion</span></span><span id="v30" class="t gr" style="left:847.70px;top:1.0px"><span class="w" style="width:19.00px;transform:scaleX(0.935);letter-spacing:-0.31px;margin:0 0.15px 0 -0.15px">2.1</span></span><span id="p30" class="t" style="left:1007.50px;top:1.0px"><span style="letter-spacing:-0.51px;margin:0 0.25px 0 -0.25px">284</span></span></div>
<div class="r g" style="top:686px;height:22px;left:0px;width:1040px"><div class="cb" style="left:4px;top:3px"><svg width="16" height="16" viewBox="0 0 16 16"><path d="M2.6 8.4L6.4 11.9L13.1 4.7" fill="none" stroke="#333" stroke-width="1.25"/></svg></div><span id="n31" class="t" style="left:26px;top:1.0px;word-spacing:-0.26px"><span class="w" style="width:26.94px;transform:scaleX(0.942);letter-spacing:-0.39px;margin:0 0.18px 0 -0.18px">AAF</span> <span style="letter-spacing:-0.36px;margin:0 0.18px 0 -0.18px">Family</span> <span style="letter-spacing:-0.33px;margin:0 0.17px 0 -0.17px">Planning</span></span><span id="v31" class="t" style="left:847.70px;top:1.0px"><span class="w" style="width:19.00px;transform:scaleX(0.935);letter-spacing:-0.31px;margin:0 0.15px 0 -0.15px">1.0</span></span><span id="p31" class="t" style="left:1007.50px;top:1.0px"><span style="letter-spacing:-0.51px;margin:0 0.25px 0 -0.25px">285</span></span></div>
<div class="r" style="top:708px;height:22px;left:2px;width:1038px"><div class="cb" style="left:3px;top:3px"><svg width="16" height="16" viewBox="0 0 16 16"><path d="M2.6 8.4L6.4 11.9L13.1 4.7" fill="none" stroke="#333" stroke-width="1.25"/></svg></div><span id="n32" class="t" style="left:25px;top:1.0px;word-spacing:-0.26px"><span class="w" style="width:24.94px;transform:scaleX(0.870);letter-spacing:-0.93px;margin:0 0.40px 0 -0.40px">RSE</span> <span style="letter-spacing:-0.49px;margin:0 0.24px 0 -0.24px">Elements</span> <span style="letter-spacing:-0.39px;margin:0 0.19px 0 -0.19px">Vol.5</span> <span style="letter-spacing:0.89px;margin:0 -0.45px 0 0.45px">-</span> <span style="letter-spacing:-0.33px;margin:0 0.16px 0 -0.16px">Random</span> <span class="w" style="width:82.81px;transform:scaleX(0.956);letter-spacing:-0.24px;margin:0 0.12px 0 -0.12px">Shenanigans</span> <span class="w" style="width:35.92px;transform:scaleX(0.950);letter-spacing:-0.22px;margin:0 0.10px 0 -0.10px">(v3.3)</span></span><span id="v32" class="t" style="left:846.70px;top:1.0px"><span class="w" style="width:19.00px;transform:scaleX(0.935);letter-spacing:-0.31px;margin:0 0.15px 0 -0.15px">3.3</span></span><span id="p32" class="t" style="left:1006.50px;top:1.0px"><span style="letter-spacing:-0.51px;margin:0 0.25px 0 -0.25px">286</span></span></div>
<div class="r g" style="top:730px;height:24px;left:2px;width:1038px"><div class="cb" style="left:3px;top:4px"><svg width="16" height="16" viewBox="0 0 16 16"><path d="M2.6 8.4L6.4 11.9L13.1 4.7" fill="none" stroke="#333" stroke-width="1.25"/></svg></div><span id="n33" class="t" style="left:25px;top:2.0px;word-spacing:-0.27px"><span class="w" style="width:26.89px;transform:scaleX(0.941);letter-spacing:-0.39px;margin:0 0.18px 0 -0.18px">AAF</span> <span class="w" style="width:32.87px;transform:scaleX(0.867);letter-spacing:-0.94px;margin:0 0.41px 0 -0.41px">RSEE</span> <span style="letter-spacing:-0.18px;margin:0 0.09px 0 -0.09px">Vol4</span> <span style="letter-spacing:-0.29px;margin:0 0.15px 0 -0.15px">Brothels</span></span><svg class="ic" style="left:774px;top:4px" viewBox="0 0 16 16"><use href="#cal"/></svg><span id="v33" class="t" style="left:795.8px;top:2.0px"><span style="letter-spacing:-0.31px;margin:0 0.15px 0 -0.15px">2018-12</span><span style="letter-spacing:-0.8px">...</span></span><span id="p33" class="t" style="left:1006.50px;top:2.0px"><span style="letter-spacing:-0.51px;margin:0 0.25px 0 -0.25px">287</span></span></div>
<div class="r" style="top:754px;height:24px;left:2px;width:1038px"><div class="cb" style="left:3px;top:4px"><svg width="16" height="16" viewBox="0 0 16 16"><path d="M2.6 8.4L6.4 11.9L13.1 4.7" fill="none" stroke="#333" stroke-width="1.25"/></svg></div><span id="n34" class="t" style="left:25px;top:2.0px;word-spacing:-0.27px"><span class="w" style="width:26.85px;transform:scaleX(0.940);letter-spacing:-0.40px;margin:0 0.19px 0 -0.19px">AAF</span> <span class="w" style="width:32.82px;transform:scaleX(0.867);letter-spacing:-0.95px;margin:0 0.41px 0 -0.41px">RSEE</span> <span style="letter-spacing:-0.20px;margin:0 0.10px 0 -0.10px">Vol3</span> <span style="letter-spacing:-0.46px;margin:0 0.23px 0 -0.23px">Karma</span> <span style="letter-spacing:-0.25px;margin:0 0.12px 0 -0.12px">WDD</span></span><svg class="ic" style="left:774px;top:4px" viewBox="0 0 16 16"><use href="#cal"/></svg><span id="v34" class="t" style="left:795.8px;top:2.0px"><span style="letter-spacing:-0.31px;margin:0 0.15px 0 -0.15px">2018-12</span><span style="letter-spacing:-0.8px">...</span></span><span id="p34" class="t" style="left:1006.50px;top:2.0px"><span style="letter-spacing:-0.51px;margin:0 0.25px 0 -0.25px">288</span></span></div>
<div class="r g" style="top:778px;height:24px;left:2px;width:1038px"><div class="cb" style="left:3px;top:4px"><svg width="16" height="16" viewBox="0 0 16 16"><path d="M2.6 8.4L6.4 11.9L13.1 4.7" fill="none" stroke="#333" stroke-width="1.25"/></svg></div><span id="n35" class="t" style="left:25px;top:2.0px;word-spacing:-0.27px"><span class="w" style="width:26.87px;transform:scaleX(0.941);letter-spacing:-0.40px;margin:0 0.19px 0 -0.19px">AAF</span> <span class="w" style="width:32.84px;transform:scaleX(0.867);letter-spacing:-0.95px;margin:0 0.41px 0 -0.41px">RSEE</span> <span style="letter-spacing:-0.19px;margin:0 0.10px 0 -0.10px">Vol2</span> <span style="letter-spacing:-0.36px;margin:0 0.18px 0 -0.18px">AdvNeeds</span> <span style="letter-spacing:-0.24px;margin:0 0.12px 0 -0.12px">WDD</span></span><svg class="ic" style="left:774px;top:4px" viewBox="0 0 16 16"><use href="#cal"/></svg><span id="v35" class="t" style="left:795.8px;top:2.0px"><span style="letter-spacing:-0.31px;margin:0 0.15px 0 -0.15px">2018-12</span><span style="letter-spacing:-0.8px">...</span></span><span id="p35" class="t" style="left:1006.50px;top:2.0px"><span style="letter-spacing:-0.51px;margin:0 0.25px 0 -0.25px">289</span></span></div>
<div class="r" style="top:802px;height:24px;left:2px;width:1038px"><div class="cb" style="left:3px;top:4px"><svg width="16" height="16" viewBox="0 0 16 16"><path d="M2.6 8.4L6.4 11.9L13.1 4.7" fill="none" stroke="#333" stroke-width="1.25"/></svg></div><span id="n36" class="t" style="left:25px;top:2.0px;word-spacing:-0.30px"><span class="w" style="width:26.66px;transform:scaleX(0.936);letter-spacing:-0.43px;margin:0 0.20px 0 -0.20px">AAF</span> <span class="w" style="width:32.59px;transform:scaleX(0.863);letter-spacing:-0.97px;margin:0 0.42px 0 -0.42px">RSEE</span> <span style="letter-spacing:-0.25px;margin:0 0.12px 0 -0.12px">Vol2</span> <span style="letter-spacing:-0.26px;margin:0 0.13px 0 -0.13px">AN</span> <span class="w" style="width:62.22px;transform:scaleX(0.934);letter-spacing:-0.39px;margin:0 0.18px 0 -0.18px">DLCPatch</span></span><svg class="ic" style="left:774px;top:4px" viewBox="0 0 16 16"><use href="#cal"/></svg><span id="v36" class="t" style="left:795.8px;top:2.0px"><span style="letter-spacing:-0.31px;margin:0 0.15px 0 -0.15px">2018-12</span><span style="letter-spacing:-0.8px">...</span></span><span id="p36" class="t" style="left:1006.50px;top:2.0px"><span style="letter-spacing:-0.51px;margin:0 0.25px 0 -0.25px">290</span></span></div>
<div class="r g" style="top:826px;height:22px;left:2px;width:1038px"><div class="cb" style="left:3px;top:3px"><svg width="16" height="16" viewBox="0 0 16 16"><path d="M2.6 8.4L6.4 11.9L13.1 4.7" fill="none" stroke="#333" stroke-width="1.25"/></svg></div><span id="n37" class="t" style="left:25px;top:1.0px;word-spacing:-0.28px"><span class="w" style="width:24.81px;transform:scaleX(0.867);letter-spacing:-0.95px;margin:0 0.41px 0 -0.41px">RSE</span> <span style="letter-spacing:-0.53px;margin:0 0.27px 0 -0.27px">Elements</span> <span style="letter-spacing:-0.09px;margin:0 0.05px 0 -0.05px">Vol</span> <span style="letter-spacing:-0.57px;margin:0 0.29px 0 -0.29px">2</span> <span class="w" style="width:38.70px;transform:scaleX(0.903);letter-spacing:-0.76px;margin:0 0.34px 0 -0.34px">CWSS</span> <span class="w" style="width:35.72px;transform:scaleX(0.947);letter-spacing:-0.28px;margin:0 0.13px 0 -0.13px">Patch</span></span><span id="c37" class="t" style="left:635.20px;top:1.0px;word-spacing:-0.25px"><span class="w" style="width:50.00px;transform:scaleX(0.942);letter-spacing:-0.31px;margin:0 0.15px 0 -0.15px">Patches</span></span><span id="v37" class="t gr" style="left:846.70px;top:1.0px"><span class="w" style="width:19.00px;transform:scaleX(0.935);letter-spacing:-0.31px;margin:0 0.15px 0 -0.15px">1.0</span></span><span id="p37" class="t" style="left:1006.50px;top:1.0px"><span style="letter-spacing:-0.51px;margin:0 0.25px 0 -0.25px">291</span></span></div>
<div class="r" style="top:848px;height:24px;left:2px;width:1038px"><div class="cb" style="left:3px;top:4px"><svg width="16" height="16" viewBox="0 0 16 16"><path d="M2.6 8.4L6.4 11.9L13.1 4.7" fill="none" stroke="#333" stroke-width="1.25"/></svg></div><span id="n38" class="t" style="left:25px;top:2.0px;word-spacing:-0.31px"><span class="w" style="width:26.63px;transform:scaleX(0.936);letter-spacing:-0.43px;margin:0 0.20px 0 -0.20px">AAF</span> <span class="w" style="width:32.55px;transform:scaleX(0.862);letter-spacing:-0.98px;margin:0 0.42px 0 -0.42px">RSEE</span> <span style="letter-spacing:-0.26px;margin:0 0.13px 0 -0.13px">Vol7</span> <span class="w" style="width:24.66px;transform:scaleX(0.893);letter-spacing:-0.72px;margin:0 0.32px 0 -0.32px">FAP</span></span><svg class="ic" style="left:774px;top:4px" viewBox="0 0 16 16"><use href="#cal"/></svg><span id="v38" class="t" style="left:795.8px;top:2.0px"><span style="letter-spacing:-0.31px;margin:0 0.15px 0 -0.15px">2018-12</span><span style="letter-spacing:-0.8px">...</span></span><span id="p38" class="t" style="left:1006.50px;top:2.0px"><span style="letter-spacing:-0.51px;margin:0 0.25px 0 -0.25px">292</span></span></div>
<div class="r g" style="top:872px;height:24px;left:2px;width:1038px"><div class="cb" style="left:3px;top:4px"><svg width="16" height="16" viewBox="0 0 16 16"><path d="M2.6 8.4L6.4 11.9L13.1 4.7" fill="none" stroke="#333" stroke-width="1.25"/></svg></div><span id="n39" class="t" style="left:25px;top:2.0px;word-spacing:-0.27px"><span class="w" style="width:26.84px;transform:scaleX(0.940);letter-spacing:-0.40px;margin:0 0.19px 0 -0.19px">AAF</span> <span class="w" style="width:32.80px;transform:scaleX(0.866);letter-spacing:-0.95px;margin:0 0.41px 0 -0.41px">RSEE</span> <span style="letter-spacing:-0.20px;margin:0 0.10px 0 -0.10px">Vol1</span> <span class="w" style="width:26.84px;transform:scaleX(0.909);letter-spacing:-0.65px;margin:0 0.29px 0 -0.29px">CSA</span> <span style="letter-spacing:-0.25px;margin:0 0.13px 0 -0.13px">WDD</span></span><svg class="ic" style="left:774px;top:4px" viewBox="0 0 16 16"><use href="#cal"/></svg><span id="v39" class="t" style="left:795.8px;top:2.0px"><span style="letter-spacing:-0.31px;margin:0 0.15px 0 -0.15px">2018-12</span><span style="letter-spacing:-0.8px">...</span></span><span id="p39" class="t" style="left:1006.50px;top:2.0px"><span style="letter-spacing:-0.51px;margin:0 0.25px 0 -0.25px">293</span></span></div>
<div class="r" style="top:896px;height:22px;left:2px;width:1038px"><div class="cb" style="left:3px;top:3px"><svg width="16" height="16" viewBox="0 0 16 16"><path d="M2.6 8.4L6.4 11.9L13.1 4.7" fill="none" stroke="#333" stroke-width="1.25"/></svg></div><span id="n40" class="t" style="left:25px;top:1.0px;word-spacing:-0.27px"><span class="w" style="width:20.89px;transform:scaleX(0.870);letter-spacing:-0.59px;margin:0 0.25px 0 -0.25px">A.J.</span> <span style="letter-spacing:-0.37px;margin:0 0.18px 0 -0.18px">various</span> <span class="w" style="width:34.82px;transform:scaleX(0.933);letter-spacing:-0.44px;margin:0 0.21px 0 -0.21px">XMLs</span></span><svg class="ic" style="left:455px;top:2px" viewBox="0 0 16 16"><use href="#bolt"/><use href="#minus" y="11"/></svg><span id="v40" class="t" style="left:846.70px;top:1.0px"><span class="w" style="width:19.00px;transform:scaleX(0.935);letter-spacing:-0.31px;margin:0 0.15px 0 -0.15px">2.3</span></span><span id="p40" class="t" style="left:1006.50px;top:1.0px"><span style="letter-spacing:-0.51px;margin:0 0.25px 0 -0.25px">294</span></span></div>
<div class="r g" style="top:918px;height:22px;left:2px;width:1038px"><div class="cb" style="left:3px;top:3px"><svg width="16" height="16" viewBox="0 0 16 16"><path d="M2.6 8.4L6.4 11.9L13.1 4.7" fill="none" stroke="#333" stroke-width="1.25"/></svg></div><span id="n41" class="t i" style="left:25px;top:1.0px;word-spacing:-0.38px"><span class="w" style="width:48.99px;transform:scaleX(0.930);letter-spacing:-0.37px;margin:0 -0.00px 0 0.23px">Patches</span> <span style="letter-spacing:0.25px;margin:0 -0.00px 0 0.00px">for</span> <span class="w" style="width:22.74px;transform:scaleX(0.915);letter-spacing:-0.38px;margin:0 -0.00px 0 0.00px">A.J.</span> <span class="w" style="width:42.36px;transform:scaleX(0.913);letter-spacing:-0.42px;margin:0 -0.00px 0 0.00px">various</span> <span class="w" style="width:35.64px;transform:scaleX(0.946);letter-spacing:-0.36px;margin:0 -0.00px 0 0.00px">XMLs</span></span><svg class="ic" style="left:455px;top:2px" viewBox="0 0 16 16"><use href="#bolt"/><use href="#plus" y="8"/></svg><svg class="ic" style="left:473px;top:2px" viewBox="0 0 16 16"><use href="#redx"/></svg><span id="v41" class="t" style="left:838.70px;top:1.0px"><span class="w" style="width:27.00px;transform:scaleX(0.912);letter-spacing:-0.47px;margin:0 0.21px 0 -0.21px">1.0E</span></span><span id="p41" class="t" style="left:1006.50px;top:1.0px"><span style="letter-spacing:-0.51px;margin:0 0.25px 0 -0.25px">295</span></span></div>
<div class="r" style="top:940px;height:22px;left:2px;width:1038px"><div class="cb" style="left:3px;top:3px"><svg width="16" height="16" viewBox="0 0 16 16"><path d="M2.6 8.4L6.4 11.9L13.1 4.7" fill="none" stroke="#333" stroke-width="1.25"/></svg></div><span id="n42" class="t" style="left:25px;top:1.0px;word-spacing:-0.27px"><span class="w" style="width:26.90px;transform:scaleX(0.941);letter-spacing:-0.39px;margin:0 0.18px 0 -0.18px">AAF</span> <span class="w" style="width:25.90px;transform:scaleX(0.890);letter-spacing:-0.78px;margin:0 0.35px 0 -0.35px">SEU</span> <span class="w" style="width:35.86px;transform:scaleX(0.937);letter-spacing:-0.34px;margin:0 0.16px 0 -0.16px">V0.21</span></span><span id="v42" class="t" style="left:838.70px;top:1.0px"><span class="w" style="width:27.00px;transform:scaleX(0.943);letter-spacing:-0.29px;margin:0 0.13px 0 -0.13px">0.21</span></span><span id="p42" class="t" style="left:1006.50px;top:1.0px"><span style="letter-spacing:-0.51px;margin:0 0.25px 0 -0.25px">296</span></span></div>
<div style="position:absolute;left:460px;top:0;width:6px;height:1px;background:#f8c27a"></div>
<div style="position:absolute;left:0;top:705px;width:2px;height:1px;background:#7a84a0"></div>
</body></html>
